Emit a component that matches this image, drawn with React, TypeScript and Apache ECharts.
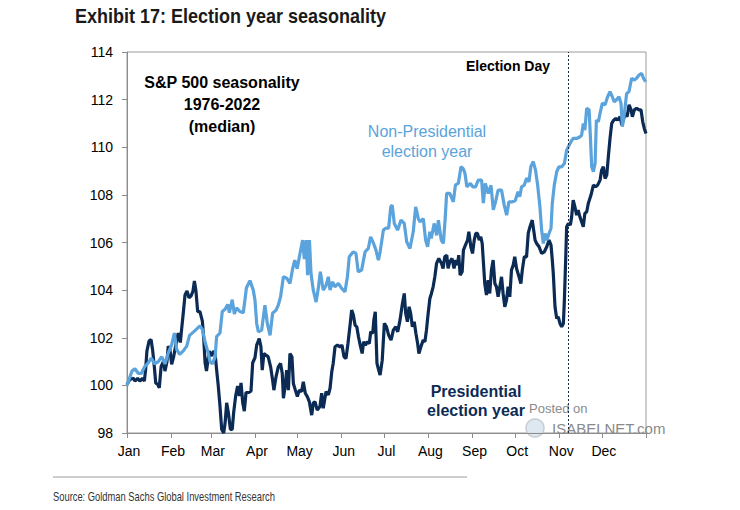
import React, { useEffect, useRef } from "react";
import * as echarts from "echarts";

const MONTHS = ["Jan", "Feb", "Mar", "Apr", "May", "Jun", "Jul", "Aug", "Sep", "Oct", "Nov", "Dec"];
const MONTH_STARTS = [0, 31, 59, 90, 120, 151, 181, 212, 243, 273, 304, 334];
const YEAR_END = 365;
const Y_MIN = 98;
const Y_MAX = 114;
const Y_STEP = 2;
const ELECTION_DAY = 310;

// [day of year, index level] — Non-Presidential election year (median)
const nonPresidential: [number, number][] = [
  [0, 100.0], [3.5, 100.6], [5.6, 100.7], [8, 100.5], [10, 100.5], [12.6, 100.8], [15, 100.95], [17, 101.15],
  [19.5, 100.9], [22, 101.0], [24.4, 101.2], [26.7, 100.9], [29, 101.35], [31.4, 101.7], [33.3, 102.2], [35, 101.5],
  [37, 101.3], [39.6, 101.45], [42, 101.65], [44, 102.1], [47.8, 102.3], [51.3, 102.5], [53, 102.35], [55, 101.8],
  [56.7, 101.45], [58.4, 101.0], [60, 100.9], [62, 101.2], [63, 102.05], [65.4, 102.2], [67, 103.1], [69, 103.2],
  [70.8, 103.4], [72, 103.05], [74, 103.6], [75.5, 103.0], [77, 103.25], [79.5, 103.1], [81.8, 103.05], [84, 104.1],
  [86.5, 104.4], [88.8, 104.0], [90, 103.58], [91.2, 102.6], [92.4, 102.25], [94.7, 102.32], [97, 103.37], [98.7, 102.6],
  [100.6, 102.1], [102.4, 103.03], [104.8, 103.16], [106.4, 103.37], [108, 103.72], [110, 104.56], [112.3, 104.5],
  [114.6, 104.28], [116.5, 104.9], [118, 105.26], [119.7, 104.9], [121.7, 105.55], [123.5, 106.1], [124.7, 105.3],
  [126, 106.1], [127, 104.63], [128.3, 106.1], [129.4, 104.7], [131, 104.0], [133, 103.5], [134.7, 104.14], [136, 104.77],
  [138, 104.0], [140, 104.2], [141.6, 104.56], [142.8, 104.0], [144.6, 104.35], [146.2, 104.14], [148.6, 104.28],
  [151, 104.07], [153.3, 103.93], [155, 104.56], [156.3, 105.4], [159, 105.6], [161, 105.55], [162.6, 104.77],
  [165, 104.84], [167.4, 105.6], [169.7, 105.75], [171.3, 106.24], [173.4, 105.96], [175, 105.7], [176.8, 105.26],
  [178, 105.6], [180.3, 106.52], [182, 106.6], [184, 106.6], [185.5, 107.5], [186.5, 107.57], [188, 106.8],
  [190.3, 106.52], [192.7, 106.94], [195, 106.8], [196.7, 106.03], [199, 105.75], [201.3, 106.45], [203, 107.5],
  [204.9, 107.0], [206, 106.87], [208.4, 107.0], [210, 106.1], [211.4, 105.82], [213, 106.45], [214, 106.17],
  [216, 106.8], [217.8, 106.3], [219, 106.94], [221, 106.1], [222.5, 105.96], [223.7, 106.94], [224.8, 108.06],
  [227, 108.06], [229.5, 107.71], [231, 108.42], [233, 108.48], [234.9, 109.18], [236.5, 109.1], [237.7, 108.9],
  [239, 108.34], [241.5, 108.48], [243.2, 108.34], [245.2, 108.34], [247, 108.62], [249.4, 108.62], [250.6, 107.65],
  [252, 108.48], [254, 108.06], [256, 108.4], [257.6, 107.37], [259.2, 107.71], [261, 108.2], [263.4, 108.2],
  [265.3, 107.57], [267, 107.15], [268.6, 107.71], [271, 107.71], [273, 107.75], [275, 108.13], [276.2, 107.92],
  [277.5, 108.34], [279.4, 108.41], [281, 108.7], [282.7, 108.55], [284, 109.18], [285.7, 109.4], [287.3, 109.04],
  [288.8, 108.41], [290.4, 107.5], [291.6, 106.52], [292.8, 105.96], [294, 106.38], [295.2, 106.1], [296.8, 106.38],
  [298.2, 106.6], [299.1, 107.65], [300.5, 108.41], [302.2, 108.97], [303.8, 109.18], [305.7, 109.18], [307.6, 109.32],
  [309.2, 109.88], [310.4, 110.02], [312.2, 110.23], [313.8, 110.37], [316.2, 110.37], [318.6, 110.44], [319.7, 110.5],
  [320.9, 111.0], [322, 110.72], [323.3, 111.64], [325, 111.57], [326, 110.3], [326.8, 109.18], [328, 108.97],
  [329.2, 109.32], [330.1, 111.14], [331.5, 111.07], [332.7, 111.43], [334.3, 111.85], [336.2, 111.78], [338, 112.12],
  [339.7, 112.33], [341.3, 112.12], [342.7, 111.9], [344.3, 112.0], [346, 112.12], [347.4, 111.85], [348.4, 110.86],
  [349.8, 111.43], [351.4, 112.26], [353, 112.33], [354.9, 112.9], [356.8, 112.82], [358.4, 112.9], [360, 113.03],
  [362, 113.1], [363.2, 112.9], [364.7, 112.75],
];

// [day of year, index level] — Presidential election year (median)
const presidential: [number, number][] = [
  [0, 100.04], [2, 100.25], [4.5, 100.3], [5.6, 100.18], [7.5, 100.3], [9, 100.18], [10.8, 100.3], [12.2, 100.18],
  [13.1, 100.67], [14, 101.44], [15.5, 101.86], [16.9, 101.93], [18, 101.5], [19.2, 100.8], [20.2, 100.1], [21.6, 100.04],
  [22.7, 99.9], [24, 100.8], [25.6, 101.0], [26.7, 100.6], [28.1, 101.0], [29, 101.65], [30.2, 101.5], [31.4, 100.88],
  [32.8, 101.2], [34.2, 101.65], [36, 102.2], [37.5, 101.8], [38.4, 102.35], [39.6, 103.05], [40.8, 103.8], [42.2, 103.96],
  [43.6, 103.68], [45, 103.75], [46.4, 103.96], [47.4, 104.38], [48.5, 103.96], [49.7, 103.1], [51.3, 103.1], [53, 102.7],
  [54, 101.93], [54.9, 100.95], [55.9, 100.6], [56.8, 101.0], [57.8, 101.44], [59.2, 101.23], [60.8, 101.44], [62, 101.3],
  [63, 100.67], [64.2, 99.97], [65.4, 99.13], [66.6, 98.15], [68, 98.0], [69, 98.43], [70.1, 99.27], [71.3, 98.85],
  [72.7, 98.15], [74, 98.15], [75, 98.85], [76.4, 99.55], [77.8, 99.97], [79, 99.55], [80.2, 100.1], [81.4, 99.27],
  [82.5, 98.92], [83.7, 99.7], [85.4, 99.7], [87.2, 99.76], [88.4, 100.95], [90, 101.16], [91.2, 101.69], [93, 101.97],
  [94.2, 101.62], [95.1, 100.64], [96.3, 101.34], [97.7, 101.27], [99.3, 101.2], [101, 100.78], [102.4, 100.22],
  [103.3, 99.8], [104.8, 100.36], [106.4, 100.78], [108, 100.92], [109.2, 100.5], [110, 99.46], [111.2, 99.95],
  [112.3, 100.64], [113.5, 99.8], [114.6, 101.34], [116, 101.2], [117, 100.08], [118.4, 99.8], [119.8, 99.53],
  [121.2, 99.8], [122.8, 99.74], [124, 100.15], [125.4, 99.67], [126.8, 99.53], [128.2, 99.32], [129.9, 98.75],
  [131, 99.25], [132.2, 99.32], [133.8, 98.96], [135.7, 99.11], [136.9, 99.67], [138, 99.04], [140, 99.74], [141.6, 99.6],
  [142.8, 99.88], [144, 100.57], [145, 100.92], [146.3, 101.62], [148, 101.69], [149.8, 101.62], [151.2, 101.69],
  [152.6, 101.2], [154, 101.13], [155.4, 101.76], [157, 102.6], [158, 103.16], [159.2, 102.95], [160.4, 102.53],
  [161.6, 102.46], [162.8, 102.04], [164, 101.69], [165.4, 101.34], [166.4, 101.83], [167.7, 101.69], [169, 101.83],
  [170.4, 101.76], [171.4, 102.25], [172.8, 102.18], [173.6, 102.74], [174.6, 103.09], [175.8, 100.92], [177, 100.64],
  [178, 100.43], [179.5, 101.06], [181, 102.6], [182.5, 102.46], [184, 102.11], [185.7, 101.9], [187.3, 102.32],
  [189, 102.46], [190.4, 102.25], [192, 102.74], [193.7, 103.44], [195, 103.86], [196, 103.02], [197.2, 102.67],
  [198.4, 103.3], [199.5, 103.02], [200.7, 102.46], [202, 102.67], [203.2, 102.18], [204.4, 101.76], [205.3, 101.34],
  [206.7, 101.62], [208.3, 101.9], [209.5, 101.83], [210.6, 102.32], [211.8, 103.02], [213, 103.65], [214.1, 103.86],
  [215.3, 104.14], [216.5, 104.56], [217.7, 105.12], [219.3, 105.33], [221.2, 105.12], [222.3, 104.91], [223.5, 105.4],
  [224.9, 105.47], [225.8, 104.91], [227, 105.19], [228.6, 105.33], [230, 104.91], [231.2, 105.26], [232.4, 105.05],
  [233.3, 105.47], [234.3, 104.63], [235.7, 104.77], [236.6, 105.68], [238, 105.89], [239.5, 106.1], [240.4, 106.45],
  [241.8, 105.82], [243, 105.54], [244.2, 106.1], [245.3, 106.38], [246.5, 106.38], [247.7, 106.1], [248.8, 106.24],
  [249.8, 105.96], [250.7, 105.12], [251.6, 104.28], [252.8, 103.79], [254, 104.42], [255.1, 103.86], [256.3, 104.84],
  [257.5, 105.26], [258.7, 104.28], [259.8, 104.14], [261, 103.72], [262.2, 104.14], [263.4, 104.56], [264.5, 103.86],
  [265.7, 103.3], [266.9, 103.58], [268, 104.14], [269.2, 103.72], [270.4, 104.84], [271.6, 105.05], [272.7, 105.4],
  [274, 104.9], [275.7, 104.56], [277, 104.28], [278, 104.84], [279.4, 105.4], [281, 105.4], [282.2, 106.39],
  [283.4, 106.66], [285, 106.94], [286, 106.52], [287, 106.1], [288.1, 105.96], [289.8, 105.82], [291.6, 105.54],
  [293.5, 105.61], [295.2, 105.82], [296.8, 106.1], [298.2, 105.89], [299.1, 105.26], [299.8, 104.7], [301, 103.3],
  [302.2, 102.81], [303.3, 102.88], [304.5, 102.6], [305.7, 102.46], [306.9, 102.6], [307.6, 103.58], [308.5, 105.26],
  [309.2, 106.66], [310.4, 106.8], [311.8, 106.73], [312.7, 107.08], [313.8, 107.78], [315, 107.5], [316.2, 107.15],
  [317.3, 107.36], [318.5, 107.08], [319.7, 106.87], [320.9, 106.66], [322, 107.22], [323.3, 107.29], [324.4, 107.64],
  [326.3, 107.99], [328, 108.41], [329.6, 108.34], [331, 108.41], [332.7, 108.62], [333.8, 109.04], [335, 109.18],
  [336.2, 108.69], [337.4, 108.83], [338.5, 109.6], [339.7, 110.37], [340.9, 111.0], [342.3, 111.14], [343.7, 111.21],
  [345.1, 111.14], [346.8, 111.28], [348, 110.93], [349.4, 111.21], [350.3, 111.43], [351.7, 111.28], [353.1, 111.78],
  [354.5, 111.57], [355.4, 111.28], [356.8, 111.57], [358.4, 111.64], [360.1, 111.57], [361.5, 111.57], [362.7, 111.07],
  [363.8, 110.79], [365, 110.58],
];

const DARK = "#0b2b55";
const LIGHT = "#5ba3dc";
const SANS = "Arial, 'Liberation Sans', sans-serif";

export default function App() {
  const ref = useRef<HTMLDivElement>(null);

  useEffect(() => {
    if (!ref.current) return;
    const chart = echarts.init(ref.current, null, { renderer: "svg" });
    const option: any = {
      animation: false,
      backgroundColor: "#ffffff",
      grid: {
        left: 127,
        right: 94,
        top: 52,
        bottom: 77,
        show: true,
        borderColor: "#9a9a9a",
        borderWidth: 1,
        backgroundColor: "transparent",
      },
      xAxis: {
        type: "value",
        min: 0,
        max: YEAR_END,
        splitLine: { show: false },
        axisLine: { show: true, lineStyle: { color: "#8c8c8c", width: 1 } },
        axisTick: {
          show: true,
          length: 5,
          inside: false,
          customValues: [...MONTH_STARTS, YEAR_END],
          lineStyle: { color: "#8c8c8c" },
        },
        axisLabel: {
          customValues: MONTH_STARTS,
          formatter: (v: number) => {
            const i = MONTH_STARTS.indexOf(Math.round(v));
            return i >= 0 ? MONTHS[i] : "";
          },
          color: "#000",
          fontSize: 14,
          fontFamily: SANS,
          margin: 11,
          padding: [0, 0, 0, 4],
        },
      },
      yAxis: {
        type: "value",
        min: Y_MIN,
        max: Y_MAX,
        interval: Y_STEP,
        splitLine: { show: false },
        axisLine: { show: true, lineStyle: { color: "#8c8c8c", width: 1 } },
        axisTick: { show: true, length: 5, inside: false, lineStyle: { color: "#8c8c8c" } },
        axisLabel: { color: "#000", fontSize: 14, fontFamily: SANS, margin: 14 },
      },
      series: [
        {
          name: "Presidential election year",
          type: "line",
          data: presidential,
          showSymbol: false,
          symbol: "none",
          lineStyle: { color: DARK, width: 3.2 },
          z: 2,
          markLine: {
            silent: true,
            symbol: "none",
            label: { show: false },
            lineStyle: { color: "#1d2b44", type: [2, 2], width: 1 },
            data: [{ xAxis: ELECTION_DAY }],
          },
        },
        {
          name: "Non-Presidential election year",
          type: "line",
          data: nonPresidential,
          showSymbol: false,
          symbol: "none",
          lineStyle: { color: LIGHT, width: 3.2 },
          z: 3,
        },
      ],
      graphic: [
        {
          type: "text",
          x: 75,
          y: 16,
          scaleX: 0.9,
          style: {
            text: "Exhibit 17: Election year seasonality",
            fill: "#1a1a1a",
            font: `bold 20px ${SANS}`,
            verticalAlign: "middle",
          },
        },
        {
          type: "text",
          x: 222,
          y: 104,
          style: {
            text: "S&P 500 seasonality\n1976-2022\n(median)",
            fill: "#000",
            font: `bold 16px ${SANS}`,
            lineHeight: 22,
            align: "center",
            verticalAlign: "middle",
          },
        },
        {
          type: "text",
          x: 427,
          y: 141,
          style: {
            text: "Non-Presidential\nelection year",
            fill: LIGHT,
            font: `16px ${SANS}`,
            lineHeight: 20,
            align: "center",
            verticalAlign: "middle",
          },
        },
        {
          type: "text",
          x: 508,
          y: 66,
          style: {
            text: "Election Day",
            fill: "#000",
            font: `bold 14px ${SANS}`,
            align: "center",
            verticalAlign: "middle",
          },
        },
        {
          type: "text",
          x: 476,
          y: 401,
          style: {
            text: "Presidential\nelection year",
            fill: DARK,
            font: `bold 16px ${SANS}`,
            lineHeight: 19,
            align: "center",
            verticalAlign: "middle",
          },
        },
        {
          type: "circle",
          shape: { cx: 535, cy: 428, r: 9 },
          style: { fill: "#d9e6f0", stroke: "#c3c9cf", lineWidth: 1.5, opacity: 0.9 },
        },
        {
          type: "text",
          x: 529,
          y: 408,
          style: {
            text: "Posted on",
            fill: "#8a8a8a",
            font: `13px ${SANS}`,
            verticalAlign: "middle",
          },
        },
        {
          type: "text",
          x: 552,
          y: 428,
          style: {
            text: "ISABELNET.com",
            fill: "#8a8a8a",
            font: `15px ${SANS}`,
            verticalAlign: "middle",
          },
        },
        {
          type: "line",
          shape: { x1: 53, y1: 477, x2: 467, y2: 477 },
          style: { stroke: "#9a9a9a", lineWidth: 1 },
        },
        {
          type: "text",
          x: 53,
          y: 496,
          scaleX: 0.72,
          style: {
            text: "Source: Goldman Sachs Global Investment Research",
            fill: "#333",
            font: `13px ${SANS}`,
            verticalAlign: "middle",
          },
        },
      ],
    };
    chart.setOption(option);
    return () => chart.dispose();
  }, []);

  return (
    <div
      ref={ref}
      style={{ position: "fixed", left: 0, top: 0, width: 740, height: 510, background: "#fff" }}
    />
  );
}
